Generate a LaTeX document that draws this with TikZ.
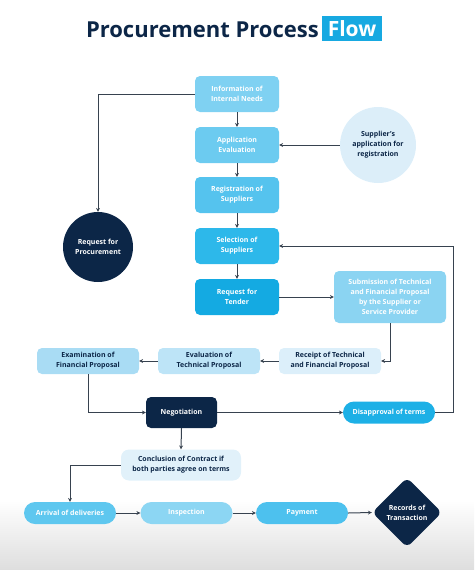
\documentclass[tikz,border=0pt]{standalone}
\usepackage{fontspec}
\setmainfont{Open Sans}
\usetikzlibrary{arrows.meta,shapes.geometric}
\definecolor{navy}{HTML}{0C2647}
\definecolor{linegray}{HTML}{37424F}
\definecolor{flowblue}{HTML}{17A9E1}
\definecolor{cinfo}{HTML}{7FD1F2}
\definecolor{capp}{HTML}{6CCBF0}
\definecolor{creg}{HTML}{55C3EE}
\definecolor{csel}{HTML}{2DB8EA}
\definecolor{ctender}{HTML}{14AAE2}
\definecolor{csub}{HTML}{8BD4F2}
\definecolor{creceipt}{HTML}{DCEFFA}
\definecolor{cevaltech}{HTML}{BDE4F7}
\definecolor{cexam}{HTML}{A9DCF4}
\definecolor{cdisapp}{HTML}{1DB0E6}
\definecolor{cconcl}{HTML}{E1F1FA}
\definecolor{carrival}{HTML}{5EC7EF}
\definecolor{cinspect}{HTML}{8CD6F3}
\definecolor{cpay}{HTML}{4DC1EE}
\definecolor{csupplier}{HTML}{DCEEF9}
\newcommand{\boxfont}{\fontsize{7}{10}\selectfont\bfseries}
\tikzset{
  flowbox/.style={rounded corners=5pt, minimum width=84pt, minimum height=36pt, inner sep=1pt,
    align=center, text=white, font=\boxfont},
  darktext/.style={text=navy},
  pill/.style={flowbox, rounded corners=11pt, minimum height=22pt, minimum width=92pt},
  widebox/.style={flowbox, minimum width=102pt, minimum height=26pt},
  link/.style={draw=linegray, line width=1pt, -{Stealth[length=3.8pt,width=3.8pt]}}
}
\begin{document}
\begin{tikzpicture}[x=1pt,y=-1pt]
                \useasboundingbox (0,0) rectangle (474,570);
                % background fade at the bottom
                \shade [top color=white, bottom color=black!13] (0,500) rectangle (474,570);

                % Title
                \node [anchor=base east, inner sep=0pt, text=navy, font=\fontsize{22}{26}\selectfont\bfseries] (title) at (319,37) {Procurement Process};
                \node [fill=flowblue, text=white, inner sep=0pt, minimum width=60pt, minimum height=25pt, font=\fontsize{21}{25}\selectfont\bfseries] (flow) at (352,28.5) {Flow};

                % Main column
                \node [flowbox, fill=cinfo] (info) at (237,94) {Information of\\Internal Needs};
                \node [flowbox, fill=capp] (appeval) at (237,145) {Application\\Evaluation};
                \node [flowbox, fill=creg] (registration) at (237,195) {Registration of\\Suppliers};
                \node [flowbox, fill=csel] (selection) at (237,246) {Selection of\\Suppliers};
                \node [flowbox, fill=ctender] (tender) at (237,297) {Request for\\Tender};

                % Circles
                \node [circle, fill=csupplier, darktext, minimum size=76pt, inner sep=0pt, align=center, font=\boxfont] (supplier) at (378,145) {Supplier's\\application for\\registration};
                \node [circle, fill=navy, text=white, minimum size=70pt, inner sep=0pt, align=center, font=\boxfont] (reqproc) at (98,247) {Request for\\Procurement};

                % Proposals
                \node [flowbox, fill=csub, minimum width=112pt, minimum height=52pt] (submission) at (390,297) {Submission of Technical\\and Financial Proposal\\by the Supplier or\\Service Provider};
                \node [widebox, fill=creceipt, darktext] (receipt) at (330,361) {Receipt of Technical\\and Financial Proposal};
                \node [widebox, fill=cevaltech, darktext] (evaltech) at (209,361) {Evaluation of\\Technical Proposal};
                \node [widebox, fill=cexam, darktext] (exam) at (88,361) {Examination of\\Financial Proposal};

                % Negotiation
                \node [flowbox, fill=navy, minimum width=71pt, minimum height=31pt] (negotiation) at (181.5,412.5) {Negotiation};
                \node [pill, fill=cdisapp] (disapproval) at (389,412.5) {Disapproval of terms};
                \node [flowbox, fill=cconcl, darktext, minimum width=120pt, minimum height=31pt, rounded corners=8pt] (conclusion) at (181,465) {Conclusion of Contract if\\both parties agree on terms};

                % Bottom row
                \node [pill, fill=carrival] (arrival) at (70,513) {Arrival of deliveries};
                \node [pill, fill=cinspect] (inspection) at (186.5,513) {Inspection};
                \node [pill, fill=cpay] (payment) at (302,513) {Payment};
                \node [diamond, fill=navy, text=white, minimum width=70pt, minimum height=70pt, inner sep=0pt, rounded corners=6pt, align=center, font=\boxfont] (records) at (407,512.5) {Records of\\Transaction};

                % Connectors down the main column
                \draw [link] (info) -- (appeval);
                \draw [link] (appeval) -- (registration);
                \draw [link] (registration) -- (selection);
                \draw [link] (selection) -- (tender);

                % Side connectors
                \draw [link] (info.west) -| (reqproc.north);
                \draw [link] (supplier.west) -- (appeval.east);
                \draw [link] (tender.east) -- (submission.west);
                \draw [link] (submission.south) |- (receipt.east);
                \draw [link] (receipt.west) -- (evaltech.east);
                \draw [link] (evaltech.west) -- (exam.east);
                \draw [link] (exam.south) |- (negotiation.west);
                \draw [link] (negotiation.east) -- (disapproval.west);
                \draw [link] (disapproval.east) -- ++(18,0) |- (selection.east);
                \draw [link] (negotiation.south) -- (conclusion.north);
                \draw [link] (conclusion.west) -| (arrival.north);

                % Bottom row connectors
                \draw [link] (arrival.east) -- (inspection.west);
                \draw [link] (inspection.east) -- (payment.west);
                \draw [link] (payment.east) -- (records.west);
\end{tikzpicture}
\end{document}
